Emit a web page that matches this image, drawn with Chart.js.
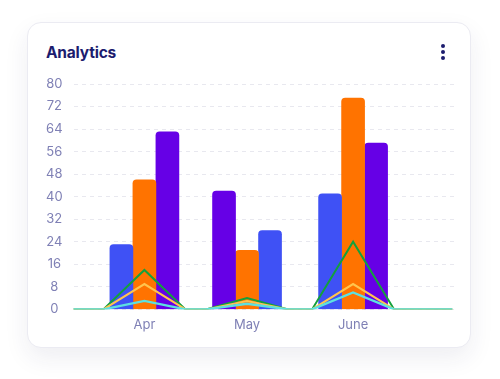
<!DOCTYPE html>
<html><head><meta charset="utf-8">
<script src="https://cdn.jsdelivr.net/npm/chart.js@4.4.1/dist/chart.umd.min.js"></script>
<style>
html,body{margin:0;padding:0;background:#fff;width:500px;height:379px;overflow:hidden;font-family:Inter,"Noto Sans",sans-serif;}
.card{position:absolute;left:27px;top:22px;width:444px;height:326px;box-sizing:border-box;border:1px solid #ebebf2;border-radius:14px;background:#fff;box-shadow:0 10px 24px rgba(40,40,90,0.08);}
.title{position:absolute;left:46px;top:43px;font:700 15.5px Inter,sans-serif;color:#1c1c6e;letter-spacing:-0.2px;}
.dots{position:absolute;left:441px;top:44px;}
.dots span{display:block;width:4px;height:4px;border-radius:50%;background:#1c1c6e;margin-bottom:2px;}
#wrap{position:absolute;left:0;top:0;width:500px;height:379px;}
</style></head>
<body>
<div class="card"></div>
<div class="title">Analytics</div>
<div class="dots"><span></span><span></span><span></span></div>
<div id="wrap"><canvas id="c"></canvas></div>
<script>
// Categories and their position on a day-based time axis (days after Apr 1)
const categories = ['Apr', 'May', 'June'];
const categoryDays = [0, 30, 61];

// Bar series (three bars per month)
const barSeriesA = [23, 42, 41];
const barSeriesB = [46, 21, 75];
const barSeriesC = [63, 28, 59];

// Line series (days on the same time axis)
const lineDays = [-21, -12, 0, 12, 18, 30, 42, 49, 61, 73, 90];
const greenLine  = [0, 0, 14, 0, 0, 4, 0, 0, 24, 0, 0];
const yellowLine = [0, 0, 9, 0, 0, 3, 0, 0, 9, 0, 0];
const cyanLine   = [0, 0, 3, 0, 0, 2, 0, 0, 6, 0, 0];

// Y tick labels
const yTicks = [0, 8, 16, 24, 32, 40, 48, 56, 64, 72, 80];

const BLUE = '#3f51f5', ORANGE = '#ff7300', PURPLE = '#6600e6';
const colorsA = [BLUE, PURPLE, BLUE];
const colorsB = [ORANGE, ORANGE, ORANGE];
const colorsC = [PURPLE, BLUE, PURPLE];

const toPts = (xs, ys) => xs.map((x, i) => ({ x: x, y: ys[i] }));

const barBase = { type: 'bar', barThickness: 23, borderRadius: { topLeft: 4, topRight: 4 }, borderSkipped: 'start', order: 10 };
const lineBase = { type: 'line', borderWidth: 2, pointRadius: 0, tension: 0, fill: false };

new Chart(document.getElementById('c'), {
  data: {
    datasets: [
      Object.assign({}, lineBase, { label: 'c', data: toPts(lineDays, cyanLine), borderColor: '#5ce1e0', borderWidth: 2.3, order: 1 }),
      Object.assign({}, lineBase, { label: 'y', data: toPts(lineDays, yellowLine), borderColor: '#ffc44d', order: 2 }),
      Object.assign({}, lineBase, { label: 'g', data: toPts(lineDays, greenLine), borderColor: '#13a03c', order: 3 }),
      Object.assign({}, barBase, { label: 'A', data: toPts(categoryDays, barSeriesA), backgroundColor: colorsA }),
      Object.assign({}, barBase, { label: 'B', data: toPts(categoryDays, barSeriesB), backgroundColor: colorsB }),
      Object.assign({}, barBase, { label: 'C', data: toPts(categoryDays, barSeriesC), backgroundColor: colorsC })
    ]
  },
  options: {
    responsive: true,
    maintainAspectRatio: false,
    animation: false,
    layout: { padding: { left: 35, right: 46, top: 84, bottom: 38 } },
    plugins: { legend: { display: false }, tooltip: { enabled: false } },
    scales: {
      x: {
        type: 'linear',
        offset: false,
        min: -20.7,
        max: 90.5,
        grid: { display: false, drawTicks: false, offset: false },
        border: { display: false },
        afterBuildTicks: (axis) => { axis.ticks = categoryDays.map(v => ({ value: v })); },
        ticks: {
          autoSkip: false, maxRotation: 0, padding: 8,
          color: '#7f80b5', font: { family: 'Inter', size: 13 },
          callback: (v) => categories[categoryDays.indexOf(v)]
        }
      },
      y: {
        min: 0, max: 80,
        afterBuildTicks: (axis) => { axis.ticks = yTicks.map(v => ({ value: v })); },
        grid: { color: '#e8e8ef', drawTicks: false, lineWidth: 1 },
        border: { display: false, dash: [4, 4] },
        ticks: { padding: 11, crossAlign: 'center', color: '#7f80b5', font: { family: 'Inter', size: 13 } }
      }
    }
  }
});
</script>
</body></html>
